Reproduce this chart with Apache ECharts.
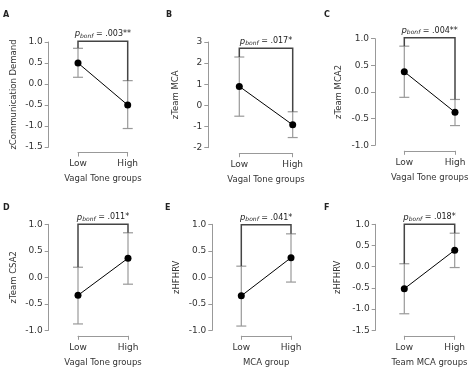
<!DOCTYPE html>
<html><head><meta charset="utf-8">
<script src="https://cdn.jsdelivr.net/npm/echarts@6/dist/echarts.min.js"></script>
<style>html,body{margin:0;padding:0;background:#fff}#c{width:474px;height:373px}</style>
</head><body><div id="c"></div>
<script>
const categories = ['Low', 'High'];
const panelLetters = ['A', 'B', 'C', 'D', 'E', 'F'];
const yNames = ['zCommunication Demand', 'zTeam MCA', 'zTeam MCA2', 'zTeam CSA2', 'zHFHRV', 'zHFHRV'];
const xNames = ['Vagal Tone groups', 'Vagal Tone groups', 'Vagal Tone groups', 'Vagal Tone groups', 'MCA group', 'Team MCA groups'];
const pValues = ['.003**', '.017*', '.004**', '.011*', '.041*', '.018*'];
const yMins = [-1.5, -2, -1, -1, -1, -1.5];
const yMaxs = [1, 3, 1, 1, 1, 1];
const yIntervals = [0.5, 1, 0.5, 0.5, 0.5, 0.5];
const bracketY = [1.02, 2.7, 1.02, 1.0, 0.99, 1.0];

const meanA = [0.50, -0.50], lowerA = [0.16, -1.06], upperA = [0.85, 0.08];
const meanB = [0.90, -0.92], lowerB = [-0.51, -1.52], upperB = [2.29, -0.30];
const meanC = [0.38, -0.38], lowerC = [-0.10, -0.63], upperC = [0.86, -0.14];
const meanD = [-0.34, 0.36], lowerD = [-0.88, -0.13], upperD = [0.19, 0.84];
const meanE = [-0.35, 0.37], lowerE = [-0.92, -0.09], upperE = [0.21, 0.82];
const meanF = [-0.52, 0.39], lowerF = [-1.11, -0.02], upperF = [0.07, 0.79];

const means = [meanA, meanB, meanC, meanD, meanE, meanF];
const lowers = [lowerA, lowerB, lowerC, lowerD, lowerE, lowerF];
const uppers = [upperA, upperB, upperC, upperD, upperE, upperF];

// layout (pixel positions of each panel)
const grids = [
  {left: 78, top: 42, width: 49.7, height: 105},
  {left: 239.3, top: 42, width: 53.4, height: 105.7},
  {left: 404.3, top: 38.7, width: 50.7, height: 106.6},
  {left: 78, top: 224.3, width: 50, height: 106},
  {left: 241.3, top: 224.3, width: 49.7, height: 106},
  {left: 404.3, top: 224.3, width: 50.4, height: 106}
];
const yOffsets = [29.3, 31, 29.3, 29.3, 29, 28.6];
const yNameGaps = [30, 28, 32, 30, 31, 33];
const letterPos = [[3, 11], [166, 11], [324, 11], [3, 204], [165, 204], [324, 204]];

const FONT = 'DejaVu Sans';
const option = {
  animation: false,
  backgroundColor: '#fff',
  title: panelLetters.map((t, i) => ({
    text: t, left: letterPos[i][0], top: letterPos[i][1], padding: 0,
    textStyle: {fontSize: 8, fontWeight: 'bold', color: '#222', fontFamily: FONT}
  })),
  grid: grids.map(g => Object.assign({containLabel: false}, g)),
  xAxis: grids.map((g, i) => ({
    type: 'category', gridIndex: i, data: categories, boundaryGap: false,
    offset: 5.5,
    name: xNames[i], nameLocation: 'middle', nameGap: 22,
    nameTextStyle: {fontSize: 8.5, color: '#333', fontFamily: FONT},
    axisLine: {show: true, onZero: false, lineStyle: {color: '#999', width: 1}},
    axisTick: {show: true, length: 4, lineStyle: {color: '#999'}},
    axisLabel: {fontSize: 9, color: '#333', margin: 7, fontFamily: FONT},
    splitLine: {show: false}
  })),
  yAxis: grids.map((g, i) => ({
    type: 'value', gridIndex: i, min: yMins[i], max: yMaxs[i], interval: yIntervals[i],
    offset: yOffsets[i],
    name: yNames[i], nameLocation: 'middle', nameGap: yNameGaps[i], nameRotate: 90,
    nameTextStyle: {fontSize: 8.5, color: '#333', fontFamily: FONT},
    axisLine: {show: true, onZero: false, lineStyle: {color: '#999', width: 1}},
    axisTick: {show: true, length: 4, lineStyle: {color: '#999'}},
    axisLabel: {fontSize: 9, color: '#333', margin: 6, fontFamily: FONT,
      formatter: v => (yIntervals[i] < 1 ? v.toFixed(1) : String(v))},
    splitLine: {show: false}
  })),
  series: []
};

for (let i = 0; i < 6; i++) {
  // error bars
  option.series.push({
    type: 'custom', xAxisIndex: i, yAxisIndex: i, z: 2,
    data: categories.map((c, k) => [k, lowers[i][k], uppers[i][k]]),
    renderItem: (params, api) => {
      const lo = api.coord([api.value(0), api.value(1)]);
      const hi = api.coord([api.value(0), api.value(2)]);
      const cap = 5;
      const st = {stroke: '#999', lineWidth: 1.2, fill: null};
      return {type: 'group', children: [
        {type: 'line', shape: {x1: lo[0], y1: lo[1], x2: hi[0], y2: hi[1]}, style: st},
        {type: 'line', shape: {x1: lo[0] - cap, y1: lo[1], x2: lo[0] + cap, y2: lo[1]}, style: st},
        {type: 'line', shape: {x1: hi[0] - cap, y1: hi[1], x2: hi[0] + cap, y2: hi[1]}, style: st}
      ]};
    }
  });
  // significance bracket
  option.series.push({
    type: 'custom', xAxisIndex: i, yAxisIndex: i, z: 3,
    data: [[0, 1, bracketY[i], uppers[i][0], uppers[i][1]]],
    renderItem: (params, api) => {
      const a = api.coord([0, api.value(3)]);
      const b = api.coord([0, api.value(2)]);
      const c = api.coord([1, api.value(2)]);
      const d = api.coord([1, api.value(4)]);
      return {type: 'group', children: [
        {type: 'polyline', shape: {points: [a, b, c, d]},
          style: {stroke: '#444', lineWidth: 1.5, fill: null}},
        {type: 'text', x: (b[0] + c[0]) / 2, y: b[1] - 2,
          style: {
            text: '{p|p}{s|bonf}{n| = ' + pValues[i] + '}',
            align: 'center', verticalAlign: 'bottom',
            rich: {
              p: {fontSize: 8.5, fontStyle: 'italic', fontFamily: FONT, fill: '#222', color: '#222'},
              s: {fontSize: 6, fontStyle: 'italic', fontFamily: FONT, fill: '#222', color: '#222', padding: [4, 0, 0, 0]},
              n: {fontSize: 8, fontFamily: FONT, fill: '#222', color: '#222'}
            }
          }}
      ]};
    }
  });
  // means
  option.series.push({
    type: 'line', xAxisIndex: i, yAxisIndex: i, z: 4,
    data: means[i],
    symbol: 'circle', symbolSize: 7,
    itemStyle: {color: '#000'},
    lineStyle: {color: '#000', width: 1}
  });
}

const chart = echarts.init(document.getElementById('c'), null, {renderer: 'canvas'});
chart.setOption(option);
</script></body></html>
